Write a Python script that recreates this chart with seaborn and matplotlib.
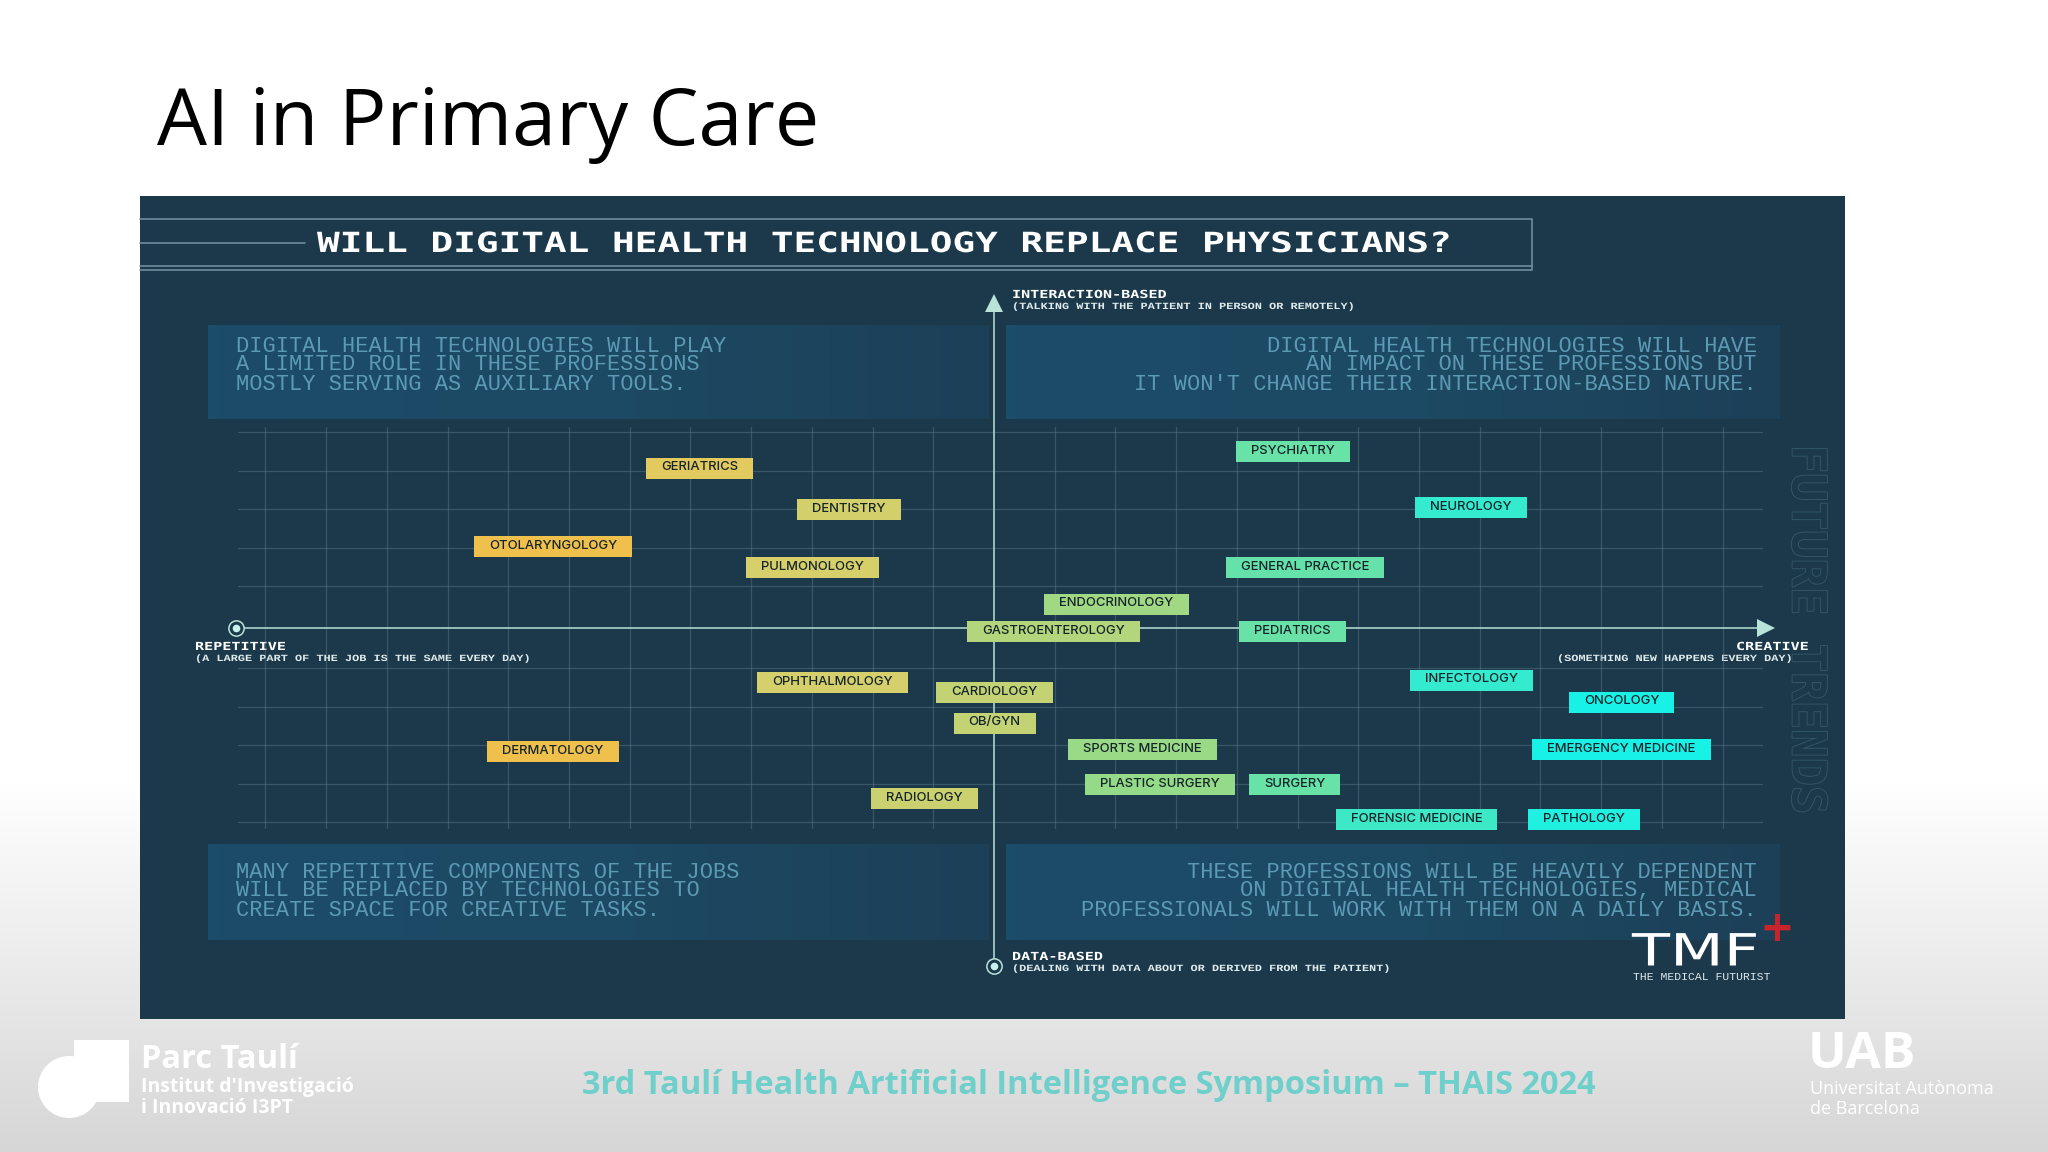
import numpy as np
import pandas as pd
import seaborn as sns
from matplotlib import pyplot as plt
from matplotlib.colors import LinearSegmentedColormap, Normalize
from matplotlib.patches import Circle, Rectangle
from matplotlib.path import Path
from matplotlib.patheffects import AbstractPathEffect, withStroke
from matplotlib.transforms import Affine2D

# values (1 x unit ~ 60px, 1 y unit ~ 38.5px, origin = the axes cross)
specialties = ['GERIATRICS', 'DENTISTRY', 'OTOLARYNGOLOGY', 'PULMONOLOGY', 'OPHTHALMOLOGY', 'CARDIOLOGY',
               'OB/GYN', 'DERMATOLOGY', 'RADIOLOGY', 'GASTROENTEROLOGY', 'ENDOCRINOLOGY', 'PSYCHIATRY',
               'NEUROLOGY', 'GENERAL PRACTICE', 'PEDIATRICS', 'INFECTOLOGY', 'ONCOLOGY', 'EMERGENCY MEDICINE',
               'SPORTS MEDICINE', 'PLASTIC SURGERY', 'SURGERY', 'FORENSIC MEDICINE', 'PATHOLOGY']
x_scores = [-4.91, -2.42, -7.35, -3.03, -2.69, 0.01, 0.01, -7.35, -1.16, 0.99, 2.04, 4.98,
            7.95, 5.18, 4.98, 7.95, 10.46, 10.46, 2.47, 2.77, 5.01, 7.04, 9.84]
y_scores = [4.17, 3.10, 2.13, 1.59, -1.40, -1.65, -2.45, -3.19, -4.41, -0.07, 0.64, 4.61,
            3.15, 1.59, -0.07, -1.33, -1.90, -3.13, -3.13, -4.04, -4.04, -4.96, -4.96]

top_left = ['DIGITAL HEALTH TECHNOLOGIES WILL PLAY', 'A LIMITED ROLE IN THESE PROFESSIONS',
            'MOSTLY SERVING AS AUXILIARY TOOLS.']
top_right = ['DIGITAL HEALTH TECHNOLOGIES WILL HAVE', 'AN IMPACT ON THESE PROFESSIONS BUT',
             "IT WON'T CHANGE THEIR INTERACTION-BASED NATURE."]
bottom_left = ['MANY REPETITIVE COMPONENTS OF THE JOBS', 'WILL BE REPLACED BY TECHNOLOGIES TO',
               'CREATE SPACE FOR CREATIVE TASKS.']
bottom_right = ['THESE PROFESSIONS WILL BE HEAVILY DEPENDENT', 'ON DIGITAL HEALTH TECHNOLOGIES, MEDICAL',
                'PROFESSIONALS WILL WORK WITH THEM ON A DAILY BASIS.']

PANEL = '#1b394a'
BLURB = '#5c9ab4'
LINE = '#b9e2d8'
MONO = 'Liberation Mono'


class StretchX(AbstractPathEffect):
    # the infographic lettering is much wider than any installed font
    def __init__(self, sx):
        super().__init__()
        self.sx = sx

    def draw_path(self, renderer, gc, tpath, affine, rgbFace=None):
        renderer.draw_path(gc, tpath, Affine2D().scale(self.sx, 1) + affine, rgbFace)


def label_box(x0, y0, width, height, mutation_size):
    # wider padding left/right than top/bottom, like the tags in the original
    x0, x1 = x0 - 15, x0 + width + 15
    y0, y1 = y0 - 5.5, y0 + height + 3.5
    return Path([(x0, y0), (x1, y0), (x1, y1), (x0, y1), (x0, y0)], closed=True)


sns.set_theme(style='white')
plt.rcParams['font.family'] = ['Open Sans', 'DejaVu Sans']

fig = plt.figure(figsize=(20.48, 11.52), dpi=100)

# whole slide, in pixel coordinates
page = fig.add_axes([0, 0, 1, 1])
slide_fade = LinearSegmentedColormap.from_list(
    'fade', [(0, '#ffffff'), (0.68, '#ffffff'), (0.88, '#e6e6e6'), (1, '#d6d6d6')])
page.imshow(np.linspace(0, 1, 256).reshape(-1, 1), cmap=slide_fade, aspect='auto', extent=(0, 2048, 1152, 0))
page.add_patch(Rectangle((140, 196), 1705, 823, color=PANEL, lw=0))

blurb_fade = LinearSegmentedColormap.from_list('blurb', ['#1b4c69', '#1d4a64', '#1c4058'])
for bx, by, bw, bh in [(208, 325, 781, 94), (1006, 325, 774, 94), (208, 844, 781, 96), (1006, 844, 774, 96)]:
    page.imshow(np.linspace(0, 1, 64).reshape(1, -1), cmap=blurb_fade, aspect='auto', zorder=1.5,
                extent=(bx, bx + bw, by + bh, by))

page.text(157, 145, 'AI in Primary Care', fontsize=57, color='black', va='baseline')

# title frame
frame = dict(color='#6d8e9a', lw=1.2)
page.plot([140, 1532, 1532, 140], [219, 219, 270, 270], **frame)
page.plot([140, 1532], [266, 266], **frame)
page.plot([140, 305], [243, 243], **frame)
page.text(317, 244, 'WILL DIGITAL HEALTH TECHNOLOGY REPLACE PHYSICIANS?', family='DejaVu Sans Mono', weight='bold',
          fontsize=20, color='white', va='center', path_effects=[StretchX(1.357)])

# blurbs
for lines, x_pos, y_pos, align in [(top_left, 236, 346, 'left'), (top_right, 1757, 346, 'right'),
                                   (bottom_left, 236, 872, 'left'), (bottom_right, 1757, 872, 'right')]:
    for i, line in enumerate(lines):
        page.text(x_pos, y_pos + i * 19, line, family=MONO, fontsize=15.8, color=BLURB, ha=align, va='center')

# axis captions, all anchored on their left edge because of the stretch
for head, head_x, sub, sub_x, y_pos in [
    ('INTERACTION-BASED', 1012, '(TALKING WITH THE PATIENT IN PERSON OR REMOTELY)', 1012, 295),
    ('DATA-BASED', 1012, '(DEALING WITH DATA ABOUT OR DERIVED FROM THE PATIENT)', 1012, 957),
    ('REPETITIVE', 195, '(A LARGE PART OF THE JOB IS THE SAME EVERY DAY)', 195, 647),
    ('CREATIVE', 1736, '(SOMETHING NEW HAPPENS EVERY DAY)', 1557, 647),
]:
    page.text(head_x, y_pos, head, family='DejaVu Sans Mono', weight='bold', fontsize=8, color='white', va='center',
              path_effects=[StretchX(1.36)])
    page.text(sub_x, y_pos + 11.5, sub, family=MONO, weight='bold', fontsize=6.8, color='#dfeaec', va='center',
              path_effects=[StretchX(1.26)])

page.text(1805, 630, 'FUTURE TRENDS', family='DejaVu Sans Mono', weight='bold', fontsize=34, rotation=-90,
          color=PANEL, ha='center', va='center', path_effects=[withStroke(linewidth=1.2, foreground='#35596b')])

# TMF logo
page.text(1632, 953, 'TMF', family='DejaVu Sans', fontsize=32, color='white', va='center',
          path_effects=[StretchX(1.4)])
page.text(1777, 929, '+', family='DejaVu Sans', weight='bold', fontsize=30, color='#c8242b', ha='center', va='center')
page.text(1702, 977, 'THE MEDICAL FUTURIST', family=MONO, fontsize=8.2, color='#dfeaec', ha='center', va='center')

# footer
page.text(1089, 1085, '3rd Taulí Health Artificial Intelligence Symposium – THAIS 2024', fontsize=23.5, weight='bold',
          color='#6fcfcb', ha='center', va='center')
page.add_patch(Circle((69, 1087), 31, color='white', lw=0))
page.add_patch(Rectangle((74, 1040), 55, 62, color='white', lw=0))
page.text(141, 1060, 'Parc Taulí', fontsize=23.5, weight='bold', color='white', va='center')
page.text(141, 1087, "Institut d'Investigació", fontsize=14, weight='bold', color='white', va='center')
page.text(141, 1108, 'i Innovació I3PT', fontsize=14, weight='bold', color='white', va='center')
page.text(1808, 1055, 'UAB', fontsize=37, weight='bold', color='white', va='center')
page.text(1810, 1089, 'Universitat Autònoma', fontsize=13, color='white', va='center')
page.text(1810, 1109, 'de Barcelona', fontsize=13, color='white', va='center')

page.set_xlim(0, 2048)
page.set_ylim(1152, 0)
page.axis('off')

# the matrix itself
ax = fig.add_axes([238 / 2048, 1 - 829 / 1152, (1763 - 238) / 2048, (829 - 427) / 1152])
ax.patch.set_alpha(0)

matrix = pd.DataFrame({'name': specialties, 'x': x_scores, 'y': y_scores})
tag_cmap = LinearSegmentedColormap.from_list(
    'tags', ['#f0c04c', '#dccf68', '#c6d272', '#8cdc8c', '#3fe8c6', '#18f2e6'])
tag_norm = Normalize(-7.4, 10.5)
sns.scatterplot(data=matrix, x='x', y='y', hue='x', palette=tag_cmap, hue_norm=tag_norm, marker='s', s=30,
                linewidth=0, legend=False, zorder=4, ax=ax)

ax.set_xlim((238 - 994) / 60, (1763 - 994) / 60)
ax.set_ylim((628 - 829) / 38.5, (628 - 427) / 38.5)
ax.set_xticks(np.concatenate([-np.arange(1, 13) * 1.012, np.arange(1, 13) * 1.012]))
ax.set_yticks([5.09, 4.09, 3.09, 2.09, 1.09, -1.04, -2.04, -3.04, -4.04, -5.04])
ax.grid(True, color='#5d7c87', lw=0.9, alpha=0.45)
ax.set_xlabel('')
ax.set_ylabel('')
ax.tick_params(length=0, labelbottom=False, labelleft=False)
sns.despine(ax=ax, left=True, bottom=True)

ax.plot([-12.6, 12.9], [0, 0], color=LINE, lw=1.1, clip_on=False, zorder=2)
ax.plot([0, 0], [-8.75, 8.3], color=LINE, lw=1.1, clip_on=False, zorder=2)
ax.plot(12.86, 0, marker='>', ms=13, color=LINE, mew=0, clip_on=False, zorder=3)
ax.plot(0, 8.45, marker='^', ms=13, color=LINE, mew=0, clip_on=False, zorder=3)
for px, py in [(-12.63, 0), (0, -8.78)]:
    ax.plot(px, py, marker='o', ms=11, mfc=PANEL, mec=LINE, mew=1.1, clip_on=False, zorder=3)
    ax.plot(px, py, marker='o', ms=5.5, color='#c9f0ec', mew=0, clip_on=False, zorder=3)

for row in matrix.itertuples():
    ax.text(row.x, row.y, row.name, family='Inter', weight='medium', fontsize=9.4, color='#15242a', ha='center',
            va='center', zorder=5, clip_on=False,
            bbox=dict(boxstyle=label_box, facecolor=tag_cmap(tag_norm(row.x)), edgecolor='none'))

fig.savefig('out.png', dpi=100)
